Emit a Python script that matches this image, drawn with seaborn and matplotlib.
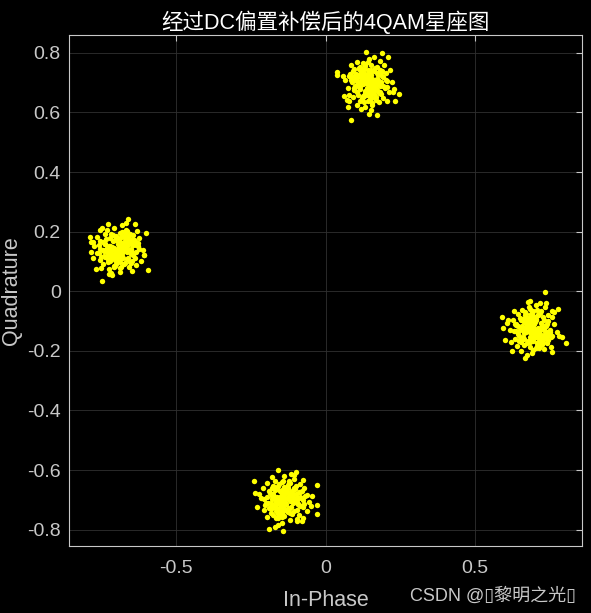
import matplotlib

matplotlib.use("Agg")
import matplotlib.pyplot as plt
import pandas as pd
import seaborn as sns

# Received symbols after DC offset compensation, (I, Q)
top_pts = [
    (0.130, 0.723), (0.145, 0.657), (0.160, 0.705), (0.113, 0.750), (0.137, 0.712),
    (0.120, 0.734), (0.142, 0.638), (0.153, 0.727), (0.125, 0.742), (0.134, 0.719),
    (0.107, 0.704), (0.205, 0.684), (0.151, 0.650), (0.169, 0.695), (0.157, 0.672),
    (0.181, 0.688), (0.144, 0.769), (0.123, 0.731), (0.098, 0.710), (0.141, 0.722),
    (0.111, 0.745), (0.135, 0.715), (0.088, 0.703), (0.172, 0.677), (0.152, 0.660),
    (0.200, 0.683), (0.164, 0.696), (0.183, 0.670), (0.155, 0.632), (0.150, 0.733),
    (0.131, 0.717), (0.096, 0.724), (0.143, 0.665), (0.192, 0.689), (0.158, 0.674),
    (0.180, 0.694), (0.170, 0.641), (0.162, 0.685), (0.187, 0.662), (0.146, 0.729),
    (0.124, 0.765), (0.136, 0.721), (0.100, 0.712), (0.115, 0.753), (0.126, 0.707),
    (0.103, 0.730), (0.141, 0.716), (0.092, 0.738), (0.119, 0.704), (0.226, 0.668),
    (0.153, 0.690), (0.169, 0.653), (0.145, 0.734), (0.122, 0.713), (0.080, 0.723),
    (0.130, 0.746), (0.108, 0.700), (0.163, 0.672), (0.185, 0.693), (0.154, 0.607),
    (0.139, 0.683), (0.175, 0.708), (0.117, 0.679), (0.148, 0.701), (0.133, 0.667),
    (0.161, 0.740), (0.105, 0.691), (0.166, 0.710), (0.128, 0.654), (0.149, 0.725),
    (0.194, 0.718), (0.112, 0.686), (0.157, 0.702), (0.138, 0.676), (0.177, 0.726),
    (0.121, 0.647), (0.142, 0.707), (0.168, 0.681), (0.094, 0.674), (0.152, 0.759),
    (0.127, 0.696), (0.173, 0.714), (0.140, 0.659), (0.159, 0.703), (0.116, 0.719),
    (0.186, 0.736), (0.132, 0.671), (0.147, 0.692), (0.109, 0.658), (0.165, 0.748),
    (0.136, 0.699), (0.156, 0.687), (0.102, 0.717), (0.178, 0.665), (0.123, 0.706),
    (0.144, 0.741), (0.171, 0.697), (0.129, 0.635), (0.151, 0.713), (0.114, 0.689),
    (0.189, 0.722), (0.134, 0.728), (0.160, 0.678), (0.106, 0.669), (0.148, 0.646),
    (0.086, 0.709), (0.174, 0.732), (0.138, 0.702), (0.163, 0.663), (0.118, 0.737),
    (0.155, 0.711), (0.097, 0.682), (0.206, 0.705), (0.131, 0.756), (0.145, 0.685),
    (0.182, 0.743), (0.125, 0.652), (0.167, 0.698), (0.110, 0.726), (0.150, 0.673),
    (0.087, 0.576), (0.147, 0.596), (0.174, 0.592), (0.248, 0.663), (0.137, 0.803),
    (0.191, 0.800), (0.211, 0.787), (0.037, 0.736), (0.040, 0.726), (0.232, 0.640),
    (0.063, 0.655), (0.075, 0.620),
    (0.202, 0.708), (0.087, 0.718), (0.172, 0.753), (0.117, 0.638), (0.212, 0.668),
    (0.074, 0.683), (0.157, 0.626), (0.132, 0.763), (0.190, 0.740), (0.097, 0.746),
    (0.194, 0.648), (0.092, 0.653), (0.222, 0.703), (0.064, 0.710), (0.147, 0.780),
    (0.134, 0.618), (0.180, 0.636), (0.107, 0.768), (0.204, 0.733), (0.078, 0.660),
    (0.186, 0.703), (0.100, 0.690), (0.154, 0.744), (0.127, 0.654), (0.200, 0.686),
    (0.082, 0.728), (0.167, 0.650), (0.114, 0.750), (0.217, 0.743), (0.072, 0.643),
    (0.182, 0.773), (0.104, 0.626), (0.230, 0.678), (0.057, 0.723), (0.162, 0.786),
    (0.120, 0.612), (0.197, 0.758), (0.084, 0.760), (0.207, 0.640), (0.080, 0.638),
]

left_pts = [
    (-0.670, 0.155), (-0.736, 0.140), (-0.688, 0.125), (-0.643, 0.172), (-0.681, 0.148),
    (-0.659, 0.165), (-0.755, 0.143), (-0.666, 0.132), (-0.651, 0.160), (-0.674, 0.151),
    (-0.689, 0.178), (-0.709, 0.080), (-0.743, 0.134), (-0.698, 0.116), (-0.721, 0.128),
    (-0.705, 0.104), (-0.624, 0.141), (-0.662, 0.162), (-0.683, 0.187), (-0.671, 0.144),
    (-0.648, 0.174), (-0.678, 0.150), (-0.690, 0.197), (-0.716, 0.113), (-0.733, 0.133),
    (-0.710, 0.085), (-0.697, 0.121), (-0.723, 0.102), (-0.761, 0.130), (-0.660, 0.135),
    (-0.676, 0.154), (-0.669, 0.189), (-0.728, 0.142), (-0.704, 0.093), (-0.719, 0.127),
    (-0.699, 0.105), (-0.752, 0.115), (-0.708, 0.123), (-0.731, 0.098), (-0.664, 0.139),
    (-0.628, 0.161), (-0.672, 0.149), (-0.681, 0.185), (-0.640, 0.170), (-0.686, 0.159),
    (-0.663, 0.182), (-0.677, 0.144), (-0.655, 0.193), (-0.689, 0.166), (-0.725, 0.059),
    (-0.703, 0.132), (-0.740, 0.116), (-0.659, 0.140), (-0.680, 0.163), (-0.670, 0.205),
    (-0.647, 0.155), (-0.693, 0.177), (-0.721, 0.122), (-0.700, 0.100), (-0.786, 0.131),
    (-0.710, 0.146), (-0.685, 0.110), (-0.714, 0.168), (-0.692, 0.137), (-0.726, 0.152),
    (-0.653, 0.124), (-0.702, 0.180), (-0.683, 0.119), (-0.739, 0.157), (-0.668, 0.136),
    (-0.675, 0.091), (-0.707, 0.173), (-0.691, 0.128), (-0.717, 0.147), (-0.667, 0.108),
    (-0.746, 0.164), (-0.686, 0.143), (-0.712, 0.117), (-0.719, 0.191), (-0.634, 0.133),
    (-0.697, 0.158), (-0.679, 0.112), (-0.734, 0.145), (-0.690, 0.126), (-0.674, 0.169),
    (-0.657, 0.099), (-0.722, 0.153), (-0.701, 0.138), (-0.735, 0.176), (-0.645, 0.120),
    (-0.694, 0.149), (-0.706, 0.129), (-0.676, 0.183), (-0.728, 0.107), (-0.687, 0.162),
    (-0.652, 0.141), (-0.696, 0.114), (-0.758, 0.156), (-0.680, 0.134), (-0.704, 0.171),
    (-0.671, 0.096), (-0.665, 0.151), (-0.715, 0.125), (-0.724, 0.179), (-0.747, 0.137),
    (-0.684, 0.199), (-0.661, 0.111), (-0.691, 0.147), (-0.730, 0.122), (-0.656, 0.167),
    (-0.682, 0.130), (-0.711, 0.188), (-0.688, 0.079), (-0.637, 0.154), (-0.708, 0.140),
    (-0.650, 0.103), (-0.741, 0.160), (-0.695, 0.118), (-0.667, 0.175), (-0.720, 0.135),
    (-0.750, 0.033), (-0.663, 0.241), (-0.791, 0.181), (-0.787, 0.164), (-0.596, 0.070),
    (-0.603, 0.194), (-0.781, 0.110), (-0.640, 0.226), (-0.770, 0.075), (-0.720, 0.062),
    (-0.610, 0.120), (-0.730, 0.225),
    (-0.685, 0.083), (-0.675, 0.198), (-0.640, 0.113), (-0.755, 0.168), (-0.725, 0.073),
    (-0.710, 0.211), (-0.767, 0.128), (-0.630, 0.153), (-0.653, 0.095), (-0.647, 0.188),
    (-0.745, 0.091), (-0.740, 0.193), (-0.690, 0.063), (-0.683, 0.221), (-0.613, 0.138),
    (-0.775, 0.151), (-0.757, 0.105), (-0.625, 0.178), (-0.660, 0.081), (-0.733, 0.207),
    (-0.690, 0.099), (-0.703, 0.185), (-0.649, 0.131), (-0.739, 0.158), (-0.707, 0.085),
    (-0.665, 0.203), (-0.743, 0.118), (-0.643, 0.171), (-0.650, 0.068), (-0.750, 0.213),
    (-0.620, 0.103), (-0.767, 0.181), (-0.715, 0.055), (-0.670, 0.228), (-0.607, 0.123),
    (-0.781, 0.165), (-0.635, 0.088), (-0.633, 0.201), (-0.753, 0.078), (-0.755, 0.205),
]

right_pts = [
    (0.709, -0.150), (0.694, -0.084), (0.679, -0.132), (0.726, -0.177), (0.702, -0.139),
    (0.719, -0.161), (0.697, -0.065), (0.686, -0.154), (0.714, -0.169), (0.705, -0.146),
    (0.732, -0.131), (0.634, -0.111), (0.688, -0.077), (0.670, -0.122), (0.682, -0.099),
    (0.658, -0.115), (0.695, -0.196), (0.716, -0.158), (0.741, -0.137), (0.698, -0.149),
    (0.728, -0.172), (0.704, -0.142), (0.751, -0.130), (0.667, -0.104), (0.687, -0.087),
    (0.639, -0.110), (0.675, -0.123), (0.656, -0.097), (0.684, -0.059), (0.689, -0.160),
    (0.708, -0.144), (0.743, -0.151), (0.696, -0.092), (0.647, -0.116), (0.681, -0.101),
    (0.659, -0.121), (0.669, -0.068), (0.677, -0.112), (0.652, -0.089), (0.693, -0.156),
    (0.715, -0.192), (0.703, -0.148), (0.739, -0.139), (0.724, -0.180), (0.713, -0.134),
    (0.736, -0.157), (0.698, -0.143), (0.747, -0.165), (0.720, -0.131), (0.613, -0.095),
    (0.686, -0.117), (0.670, -0.080), (0.694, -0.161), (0.717, -0.140), (0.759, -0.150),
    (0.709, -0.173), (0.731, -0.127), (0.676, -0.099), (0.654, -0.120), (0.685, -0.034),
    (0.700, -0.110), (0.664, -0.135), (0.722, -0.106), (0.691, -0.128), (0.706, -0.094),
    (0.678, -0.167), (0.734, -0.118), (0.673, -0.137), (0.711, -0.081), (0.690, -0.152),
    (0.645, -0.145), (0.727, -0.113), (0.682, -0.129), (0.701, -0.103), (0.662, -0.153),
    (0.718, -0.074), (0.697, -0.134), (0.671, -0.108), (0.745, -0.101), (0.687, -0.186),
    (0.712, -0.123), (0.666, -0.141), (0.699, -0.086), (0.680, -0.130), (0.723, -0.146),
    (0.653, -0.163), (0.707, -0.098), (0.692, -0.119), (0.730, -0.085), (0.674, -0.175),
    (0.703, -0.126), (0.683, -0.114), (0.737, -0.144), (0.661, -0.092), (0.716, -0.133),
    (0.695, -0.168), (0.668, -0.124), (0.710, -0.062), (0.688, -0.140), (0.725, -0.116),
    (0.650, -0.149), (0.705, -0.155), (0.679, -0.105), (0.733, -0.096), (0.691, -0.073),
    (0.753, -0.136), (0.665, -0.159), (0.701, -0.129), (0.676, -0.090), (0.721, -0.164),
    (0.684, -0.138), (0.742, -0.109), (0.633, -0.132), (0.708, -0.183), (0.694, -0.112),
    (0.657, -0.170), (0.714, -0.079), (0.672, -0.125), (0.729, -0.153), (0.689, -0.100),
    (0.737, -0.003), (0.680, -0.037), (0.740, -0.040), (0.593, -0.087), (0.596, -0.124),
    (0.603, -0.164), (0.807, -0.174), (0.794, -0.154), (0.670, -0.224), (0.760, -0.205),
    (0.625, -0.200), (0.780, -0.060),
    (0.637, -0.135), (0.752, -0.145), (0.667, -0.180), (0.722, -0.065), (0.627, -0.095),
    (0.765, -0.110), (0.682, -0.053), (0.707, -0.190), (0.649, -0.167), (0.742, -0.173),
    (0.645, -0.075), (0.747, -0.080), (0.617, -0.130), (0.775, -0.137), (0.692, -0.207),
    (0.705, -0.045), (0.659, -0.063), (0.732, -0.195), (0.635, -0.160), (0.761, -0.087),
    (0.653, -0.130), (0.739, -0.117), (0.685, -0.171), (0.712, -0.081), (0.639, -0.113),
    (0.757, -0.155), (0.672, -0.077), (0.725, -0.177), (0.622, -0.170), (0.767, -0.070),
    (0.657, -0.200), (0.735, -0.053), (0.609, -0.105), (0.782, -0.150), (0.677, -0.213),
    (0.719, -0.039), (0.642, -0.185), (0.755, -0.187), (0.632, -0.067), (0.759, -0.065),
]

bottom_pts = [
    (-0.160, -0.712), (-0.094, -0.697), (-0.142, -0.682), (-0.187, -0.729), (-0.149, -0.705),
    (-0.171, -0.722), (-0.075, -0.700), (-0.164, -0.689), (-0.179, -0.717), (-0.156, -0.708),
    (-0.141, -0.735), (-0.121, -0.637), (-0.087, -0.691), (-0.132, -0.673), (-0.109, -0.685),
    (-0.125, -0.661), (-0.206, -0.698), (-0.168, -0.719), (-0.147, -0.744), (-0.159, -0.701),
    (-0.182, -0.731), (-0.152, -0.707), (-0.140, -0.754), (-0.114, -0.670), (-0.097, -0.690),
    (-0.120, -0.642), (-0.133, -0.678), (-0.107, -0.659), (-0.069, -0.687), (-0.170, -0.692),
    (-0.154, -0.711), (-0.161, -0.746), (-0.102, -0.699), (-0.126, -0.650), (-0.111, -0.684),
    (-0.131, -0.662), (-0.078, -0.672), (-0.122, -0.680), (-0.099, -0.655), (-0.166, -0.696),
    (-0.202, -0.718), (-0.158, -0.706), (-0.149, -0.742), (-0.190, -0.727), (-0.144, -0.716),
    (-0.167, -0.739), (-0.153, -0.701), (-0.175, -0.750), (-0.141, -0.723), (-0.105, -0.616),
    (-0.127, -0.689), (-0.090, -0.673), (-0.171, -0.697), (-0.150, -0.720), (-0.160, -0.762),
    (-0.183, -0.712), (-0.137, -0.734), (-0.109, -0.679), (-0.130, -0.657), (-0.044, -0.688),
    (-0.120, -0.703), (-0.145, -0.667), (-0.116, -0.725), (-0.138, -0.694), (-0.104, -0.709),
    (-0.177, -0.681), (-0.128, -0.737), (-0.147, -0.676), (-0.091, -0.714), (-0.162, -0.693),
    (-0.155, -0.648), (-0.123, -0.730), (-0.139, -0.685), (-0.113, -0.704), (-0.163, -0.665),
    (-0.084, -0.721), (-0.144, -0.700), (-0.118, -0.674), (-0.111, -0.748), (-0.196, -0.690),
    (-0.133, -0.715), (-0.151, -0.669), (-0.096, -0.702), (-0.140, -0.683), (-0.156, -0.726),
    (-0.173, -0.656), (-0.108, -0.710), (-0.129, -0.695), (-0.095, -0.733), (-0.185, -0.677),
    (-0.136, -0.706), (-0.124, -0.686), (-0.154, -0.740), (-0.102, -0.664), (-0.143, -0.719),
    (-0.178, -0.698), (-0.134, -0.671), (-0.072, -0.713), (-0.150, -0.691), (-0.126, -0.728),
    (-0.159, -0.653), (-0.165, -0.708), (-0.115, -0.682), (-0.106, -0.736), (-0.083, -0.694),
    (-0.146, -0.756), (-0.169, -0.668), (-0.139, -0.704), (-0.100, -0.679), (-0.174, -0.724),
    (-0.148, -0.687), (-0.119, -0.745), (-0.142, -0.636), (-0.193, -0.711), (-0.122, -0.697),
    (-0.180, -0.660), (-0.089, -0.717), (-0.135, -0.675), (-0.163, -0.732), (-0.110, -0.692),
    (-0.241, -0.636), (-0.238, -0.676), (-0.231, -0.723), (-0.161, -0.599), (-0.100, -0.606),
    (-0.027, -0.649), (-0.027, -0.716), (-0.030, -0.746), (-0.188, -0.797), (-0.168, -0.790),
    (-0.144, -0.803), (-0.094, -0.770),
    (-0.145, -0.640), (-0.155, -0.755), (-0.190, -0.670), (-0.075, -0.725), (-0.105, -0.630),
    (-0.120, -0.768), (-0.063, -0.685), (-0.200, -0.710), (-0.177, -0.652), (-0.183, -0.745),
    (-0.085, -0.648), (-0.090, -0.750), (-0.140, -0.620), (-0.147, -0.778), (-0.217, -0.695),
    (-0.055, -0.708), (-0.073, -0.662), (-0.205, -0.735), (-0.170, -0.638), (-0.097, -0.764),
    (-0.140, -0.656), (-0.127, -0.742), (-0.181, -0.688), (-0.091, -0.715), (-0.123, -0.642),
    (-0.165, -0.760), (-0.087, -0.675), (-0.187, -0.728), (-0.180, -0.625), (-0.080, -0.770),
    (-0.210, -0.660), (-0.063, -0.738), (-0.115, -0.612), (-0.160, -0.785), (-0.223, -0.680),
    (-0.049, -0.722), (-0.195, -0.645), (-0.197, -0.758), (-0.077, -0.635), (-0.075, -0.762),
]

x_ticks = [-0.5, 0, 0.5]
x_labels = ["-0.5", "0", "0.5"]
y_ticks = [-0.8, -0.6, -0.4, -0.2, 0, 0.2, 0.4, 0.6, 0.8]
y_labels = ["-0.8", "-0.6", "-0.4", "-0.2", "0", "0.2", "0.4", "0.6", "0.8"]

title = "经过DC偏置补偿后的4QAM星座图"
watermark = "CSDN @▯黎明之光▯"

# Build one long table from the four clusters
symbols = pd.DataFrame(top_pts + left_pts + right_pts + bottom_pts, columns=["I", "Q"])

sns.set_theme(style="dark")
fg = "#c8c8c8"
plt.rcParams.update({
    "figure.facecolor": "black",
    "axes.facecolor": "black",
    "axes.edgecolor": fg,
    "axes.labelcolor": fg,
    "xtick.color": fg,
    "ytick.color": fg,
    "text.color": fg,
    "axes.unicode_minus": False,
})
plt.rcParams["font.family"] = ["Liberation Sans", "Noto Sans CJK SC", "DejaVu Sans"]

fig = plt.figure(figsize=(5.91, 6.13), dpi=100)
ax = fig.add_axes([0.1168, 0.1093, 0.868, 0.8336])

sns.scatterplot(data=symbols, x="I", y="Q", color="#ffff00", s=15, linewidth=0, ax=ax)

ax.set_xlim(-0.86, 0.86)
ax.set_ylim(-0.855, 0.86)
ax.set_xticks(x_ticks)
ax.set_xticklabels(x_labels)
ax.set_yticks(y_ticks)
ax.set_yticklabels(y_labels)

# MATLAB-like box with inward ticks on every side and faint grid
ax.grid(True, color="#303030", linewidth=0.6)
ax.tick_params(direction="in", length=4.5, width=0.8, top=True, right=True,
               labelsize=14, colors=fg)
ax.tick_params(axis="x", pad=10)
ax.tick_params(axis="y", pad=6)
for spine in ax.spines.values():
    spine.set_color(fg)
    spine.set_linewidth(0.8)

ax.set_xlabel("In-Phase", fontsize=15.5, color=fg)
ax.set_ylabel("Quadrature", fontsize=15.5, color=fg)
ax.xaxis.set_label_coords(0.5, -0.087)
ax.yaxis.set_label_coords(-0.092, 0.5)
ax.set_title(title, fontsize=15.5, color="white", pad=4)

fig.text(0.975, 0.027, watermark, fontsize=13, color=fg, ha="right", va="center",
         family=["Liberation Sans", "Noto Sans CJK SC", "DejaVu Sans"])

fig.savefig("out.png", dpi=100, facecolor="black")
